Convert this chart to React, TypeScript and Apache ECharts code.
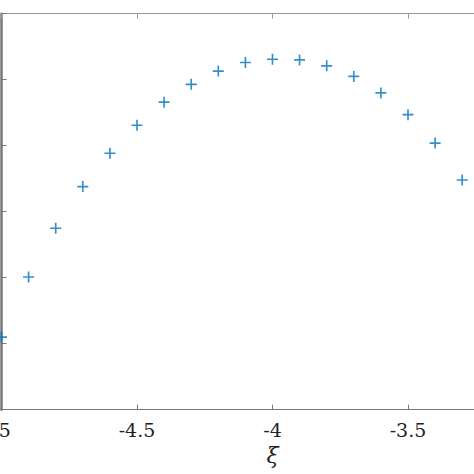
import { useEffect, useRef } from "react";
import * as echarts from "echarts";

// xi values and the measured quantity (y labels are cropped out of the figure)
const xiValues = [-5, -4.9, -4.8, -4.7, -4.6, -4.5, -4.4, -4.3, -4.2, -4.1, -4, -3.9, -3.8, -3.7, -3.6, -3.5, -3.4, -3.3];
const yValues = [1.1, 2.01, 2.75, 3.38, 3.885, 4.31, 4.66, 4.93, 5.13, 5.26, 5.31, 5.3, 5.21, 5.05, 4.8, 4.47, 4.04, 3.48];
const xTicks = [-5, -4.5, -4, -3.5];

const BLUE = "#0072BD";
const FONT = "DejaVu Serif";

// filled plus sign so it renders as a crisp "+"
const PLUS = "path://M4.25,0h1.5v4.25h4.25v1.5h-4.25v4.25h-1.5v-4.25h-4.25v-1.5h4.25z";

function buildOption(): echarts.EChartsOption {
  const data = xiValues.map((x, i) => [x, yValues[i]]);
  return {
    animation: false,
    grid: {
      left: 1.5,
      top: 13.7,
      bottom: 64.3,
      right: 474 - 1.5 - 542,
      outerBoundsMode: "none",
      containLabel: false,
    } as any,
    xAxis: [
      {
        type: "value",
        position: "bottom",
        min: -5,
        max: -3,
        interval: 0.5,
        name: "ξ",
        nameLocation: "middle",
        nameGap: 32,
        nameTextStyle: { fontFamily: FONT, fontStyle: "italic", fontSize: 22, color: "#222" },
        axisLine: { onZero: false, lineStyle: { color: "#777", width: 1.2 } },
        axisTick: { inside: true, length: 5, lineStyle: { color: "#777" } },
        axisLabel: {
          margin: 11,
          fontFamily: FONT,
          fontSize: 19,
          color: "#222",
          showMinLabel: true,
          formatter: (v: number) => (xTicks.includes(v) ? String(v) : ""),
        },
        splitLine: { show: false },
      },
      {
        type: "value",
        position: "top",
        min: -5,
        max: -3,
        interval: 0.5,
        axisLine: { onZero: false, lineStyle: { color: "#999", width: 1.2 } },
        axisTick: { inside: true, length: 5, lineStyle: { color: "#999" } },
        axisLabel: { show: false },
        splitLine: { show: false },
      },
    ],
    yAxis: {
      type: "value",
      min: 0,
      max: 6,
      interval: 1,
      axisLine: { show: true, onZero: false, lineStyle: { color: "#777", width: 2.5 } },
      axisTick: { show: true, inside: true, length: 5, lineStyle: { color: "#777" } },
      axisLabel: { show: false },
      splitLine: { show: false },
    },
    series: [
      {
        type: "scatter",
        xAxisIndex: 0,
        data,
        symbol: PLUS,
        symbolSize: 11,
        itemStyle: { color: BLUE },
        clip: false,
      },
    ],
  };
}

export default function App() {
  const ref = useRef<HTMLDivElement | null>(null);

  useEffect(() => {
    const el = ref.current;
    if (!el) return;
    const chart = echarts.init(el, undefined, { renderer: "svg" });
    chart.setOption(buildOption());
    return () => {
      chart.dispose();
    };
  }, []);

  return (
    <div
      ref={ref}
      style={{ position: "fixed", left: 0, top: 0, width: 474, height: 474, background: "#fff" }}
    />
  );
}
